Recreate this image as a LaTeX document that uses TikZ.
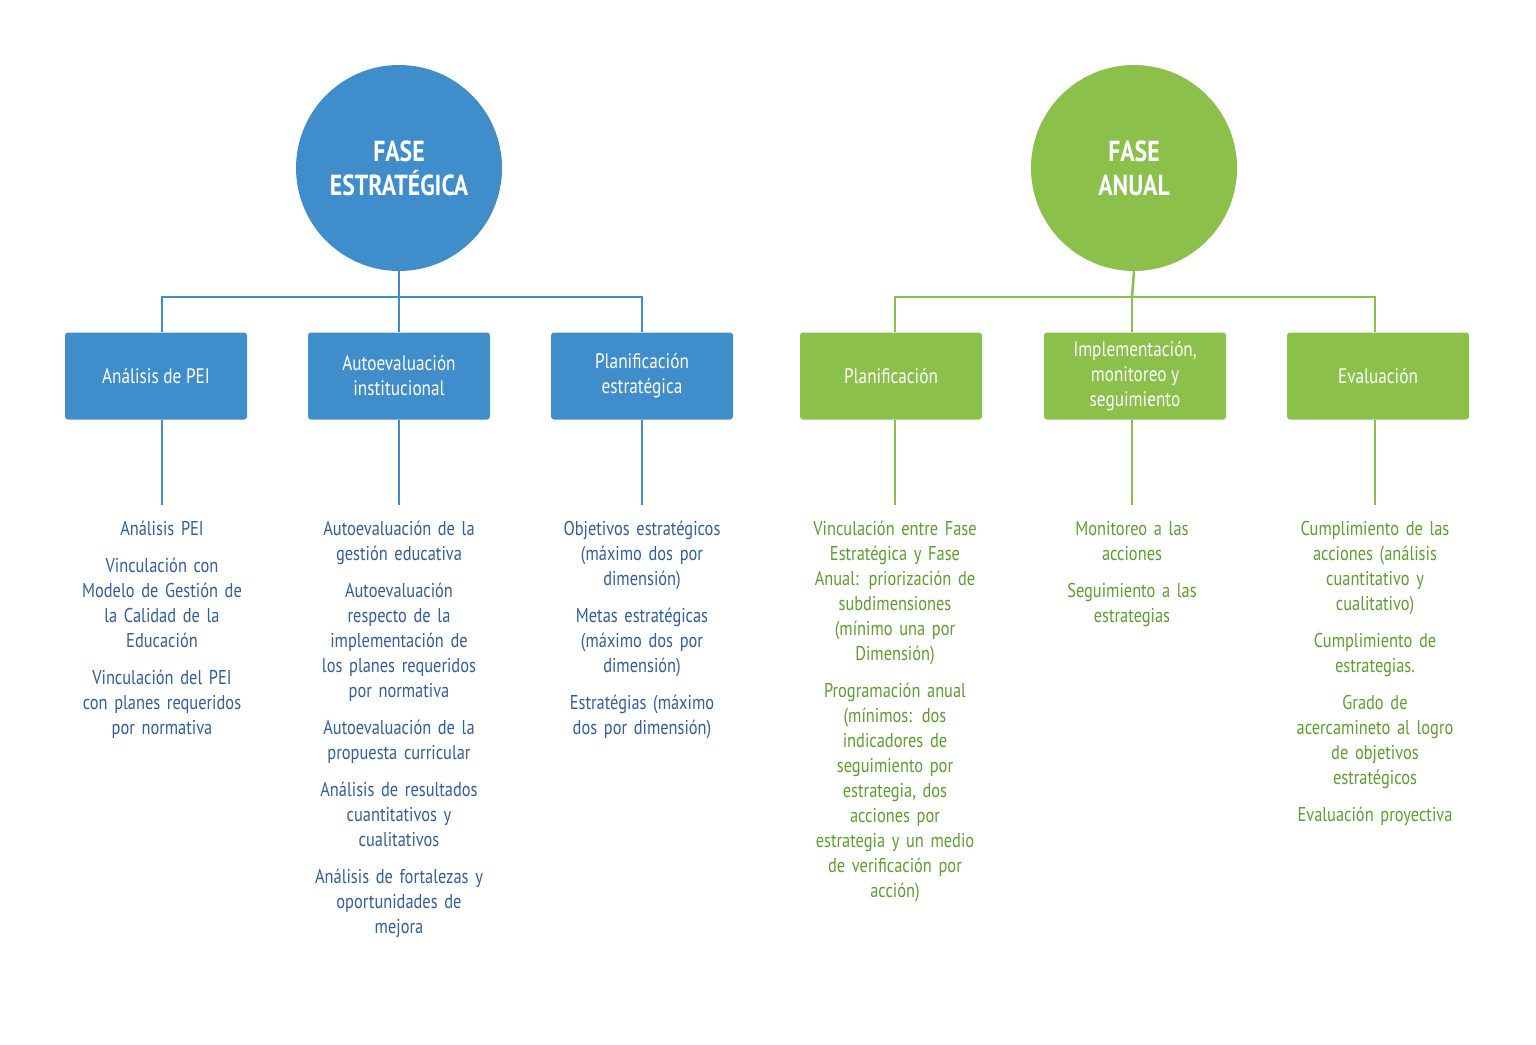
\documentclass[tikz,border=0pt]{standalone}
\usepackage{fontspec}
\setmainfont{PT Sans}[FakeStretch=0.82]
\begin{document}
\definecolor{cb}{HTML}{3F8DCB}
\definecolor{cg}{HTML}{8BC04B}
\definecolor{tb}{HTML}{2F5E9C}
\definecolor{tg}{HTML}{5C9E2E}
\begin{tikzpicture}[x=1pt,y=-1pt,
 circ/.style={circle,minimum size=206pt,inner sep=0pt,text=white,align=center,font=\fontsize{29}{34}\selectfont\bfseries},
 box/.style={rounded corners=3pt,minimum width=182pt,minimum height=87pt,text=white,align=center,font=\fontsize{21}{25}\selectfont},
 lst/.style={anchor=north,align=center,text width=190pt,font=\fontsize{20}{25}\selectfont},
 lb/.style={cb,line width=2.5pt},
 lg/.style={cg,line width=2.5pt}]
\useasboundingbox (0,0) rectangle (1536,1044);
\node[circ,fill=cb] (c1) at (399,168) {FASE\\ESTRATÉGICA};
\node[circ,fill=cg] (c2) at (1134,168) {FASE\\ANUAL};
\node[box,fill=cb] (b1) at (156,376) {Análisis de PEI};
\node[box,fill=cb] (b2) at (399,376) {Autoevaluación\\institucional};
\node[box,fill=cb] (b3) at (642,376) {Planificación\\estratégica};
\node[box,fill=cg] (b4) at (891,376) {Planificación};
\node[box,fill=cg] (b5) at (1135,376) {Implementación,\\monitoreo y\\seguimiento};
\node[box,fill=cg] (b6) at (1378,376) {Evaluación};
\coordinate (h1) at (162,297); \coordinate (h3) at (642,297);
\coordinate (h4) at (895,297); \coordinate (h6) at (1375,297);
\draw[lb] (c1.south) -- (399,297);
\draw[lb] (162,332) -- (h1) -- (h3) -- (642,332);
\draw[lb] (399,297) -- (b2.north);
\draw[lg] (c2.south) -- (1132,297);
\draw[lg] (895,332) -- (h4) -- (h6) -- (1375,332);
\draw[lg] (1132,297) -- (1132,332);
\coordinate (e1) at (162,505); \coordinate (e2) at (399,505); \coordinate (e3) at (642,505);
\coordinate (e4) at (895,505); \coordinate (e5) at (1132,505); \coordinate (e6) at (1375,505);
\draw[lb] (162,420) -- (e1); \draw[lb] (b2.south) -- (e2); \draw[lb] (b3.south) -- (e3);
\draw[lg] (895,420) -- (e4); \draw[lg] (1132,420) -- (e5); \draw[lg] (1375,420) -- (e6);
\node[lst,text=tb] (t1) at (162,518) {Análisis PEI\\[12pt]Vinculación con\\Modelo de Gestión de\\la Calidad de la\\Educación\\[12pt]Vinculación del PEI\\con planes requeridos\\por normativa};
\node[lst,text=tb] (t2) at (399,518) {Autoevaluación de la\\gestión educativa\\[12pt]Autoevaluación\\respecto de la\\implementación de\\los planes requeridos\\por normativa\\[12pt]Autoevaluación de la\\propuesta curricular\\[12pt]Análisis de resultados\\cuantitativos y\\cualitativos\\[12pt]Análisis de fortalezas y\\oportunidades de\\mejora};
\node[lst,text=tb] (t3) at (642,518) {Objetivos estratégicos\\(máximo dos por\\dimensión)\\[12pt]Metas estratégicas\\(máximo dos por\\dimensión)\\[12pt]Estratégias (máximo\\dos por dimensión)};
\node[lst,text=tg] (t4) at (895,518) {Vinculación entre Fase\\Estratégica y Fase\\Anual: priorización de\\subdimensiones\\(mínimo una por\\Dimensión)\\[12pt]Programación anual\\(mínimos: dos\\indicadores de\\seguimiento por\\estrategia, dos\\acciones por\\estrategia y un medio\\de verificación por\\acción)};
\node[lst,text=tg] (t5) at (1132,518) {Monitoreo a las\\acciones\\[12pt]Seguimiento a las\\estrategias};
\node[lst,text=tg] (t6) at (1375,518) {Cumplimiento de las\\acciones (análisis\\cuantitativo y\\cualitativo)\\[12pt]Cumplimiento de\\estrategias.\\[12pt]Grado de\\acercamineto al logro\\de objetivos\\estratégicos\\[12pt]Evaluación proyectiva};
\end{tikzpicture}
\end{document}
